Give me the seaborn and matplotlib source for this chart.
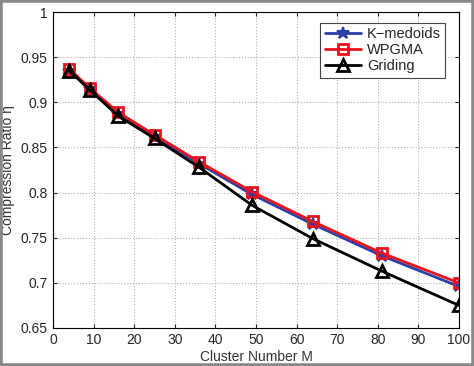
import numpy as np
import pandas as pd
import matplotlib
matplotlib.use("Agg")
import matplotlib.pyplot as plt
import seaborn as sns

cluster_m = [4, 9, 16, 25, 36, 49, 64, 81, 100]
kmedoids = [0.935, 0.915, 0.887, 0.862, 0.832, 0.798, 0.765, 0.730, 0.696]
wpgma = [0.937, 0.916, 0.889, 0.864, 0.834, 0.801, 0.768, 0.733, 0.700]
griding = [0.935, 0.914, 0.885, 0.860, 0.828, 0.786, 0.749, 0.713, 0.675]

df = pd.DataFrame({"M": cluster_m * 3,
                   "eta": kmedoids + wpgma + griding,
                   "method": ["K\u2212medoids"] * 9 + ["WPGMA"] * 9 + ["Griding"] * 9})

sns.set_style("ticks")
plt.rcParams['font.family'] = ['Liberation Sans', 'DejaVu Sans']

fig = plt.figure(figsize=(4.74, 3.66), dpi=100)
ax = fig.add_axes([0.112, 0.104, 0.856, 0.863])

styles = {
    "K\u2212medoids": dict(color="#2b3fa8", marker="*", markersize=9, mfc="#2b3fa8", mew=1.5),
    "WPGMA": dict(color="#e8141c", marker="s", markersize=7, mfc="none", mew=2),
    "Griding": dict(color="black", marker="^", markersize=8, mfc="none", mew=2),
}
for name, st in styles.items():
    sub = df[df["method"] == name]
    sns.lineplot(data=sub, x="M", y="eta", ax=ax, color=st["color"], linewidth=2,
                 marker=st["marker"], markersize=st["markersize"],
                 markerfacecolor=st["mfc"], markeredgecolor=st["color"],
                 markeredgewidth=st["mew"], label=name)

ax.set_xlim(0, 100)
ax.set_ylim(0.65, 1)
ax.set_xticks(np.arange(0, 101, 10))
ax.set_yticks(np.arange(0.65, 1.001, 0.05))
ax.set_yticklabels(["0.65", "0.7", "0.75", "0.8", "0.85", "0.9", "0.95", "1"])
ax.grid(True, linestyle=":", color="#b0b0b0", linewidth=0.8)
ax.tick_params(direction="in", labelsize=10, length=3, top=True, right=True, pad=4)
for sp in ax.spines.values():
    sp.set_linewidth(0.8)
    sp.set_color("black")
ax.set_xlabel("Cluster Number M", fontsize=10, color="#333333", labelpad=2)
ax.set_ylabel("Compression Ratio \u03b7", fontsize=10, color="#333333")

leg = ax.legend(loc="upper right", fontsize=10.5, fancybox=False, framealpha=1,
                edgecolor="#444444", handlelength=2.5, borderpad=0.3, labelspacing=0.15,
                handletextpad=0.4, bbox_to_anchor=(0.985, 0.99))
leg.get_frame().set_linewidth(0.8)

fig.patches.append(plt.Rectangle((0, 0), 1, 1, transform=fig.transFigure,
                                 fill=False, edgecolor="#888888", linewidth=4))

fig.savefig("out.png", dpi=100)
